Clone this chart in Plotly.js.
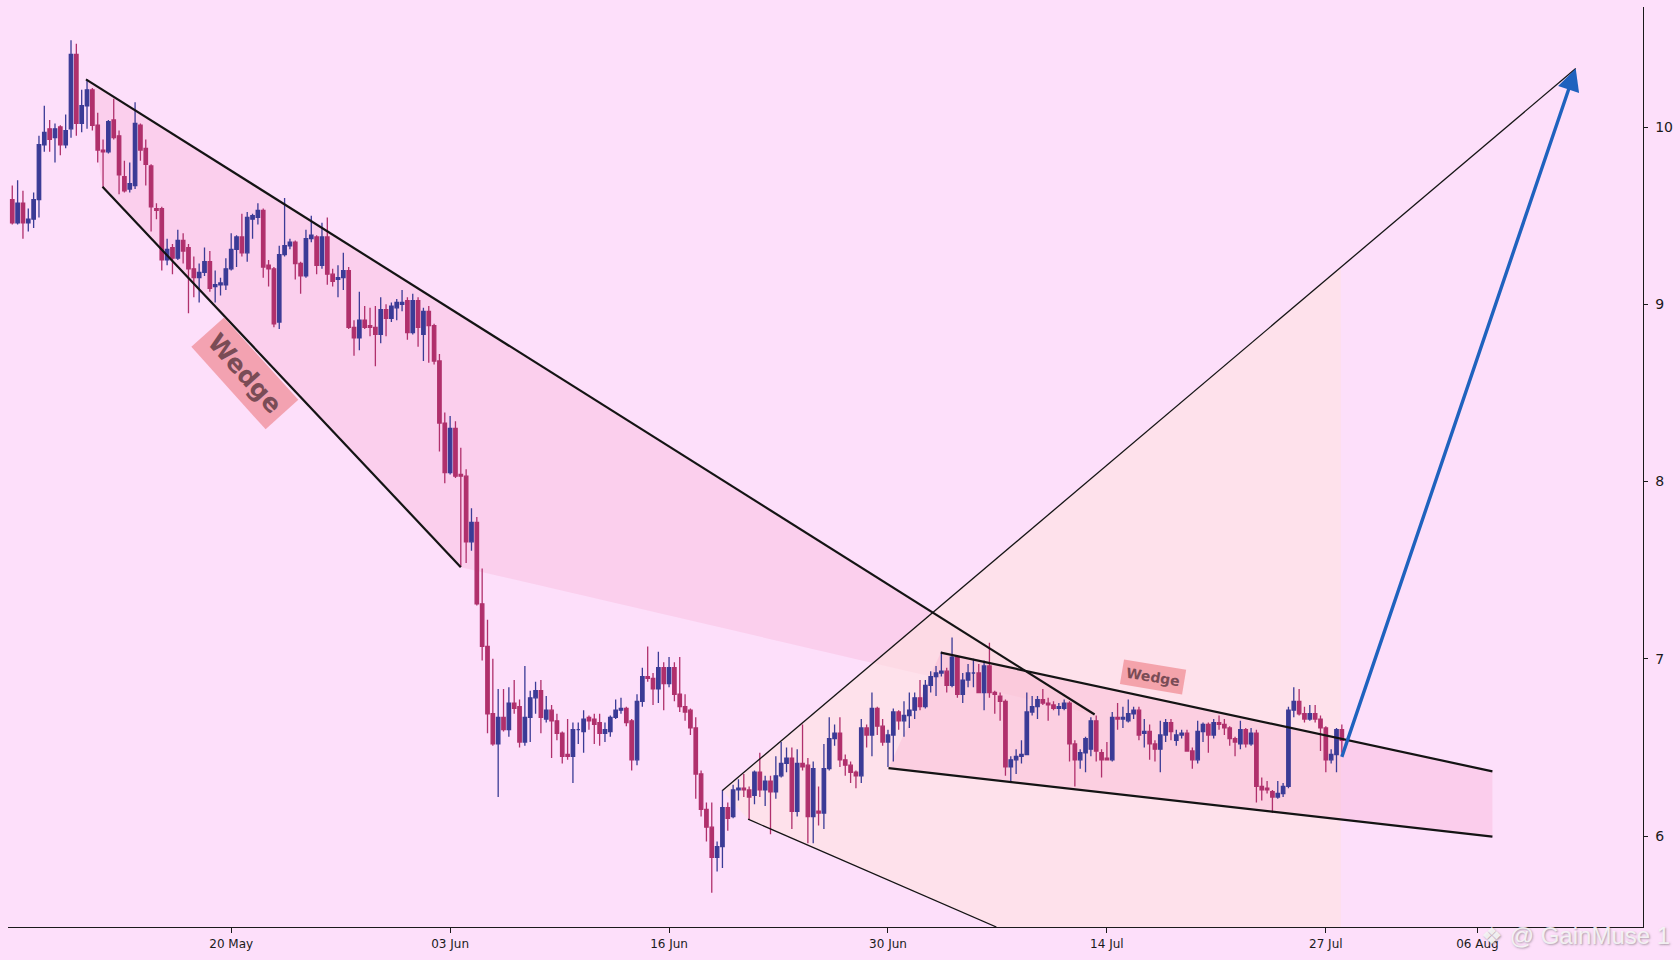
<!DOCTYPE html>
<html>
<head>
<meta charset="utf-8">
<script src="https://cdn.plot.ly/plotly-3.0.1.min.js"></script>
<style>
  html, body { margin: 0; padding: 0; background: #FDDFFA; }
  #chart { width: 1680px; height: 960px; }
</style>
</head>
<body>
<div id="chart"></div>
<script>
// ---- candle data (8h candles, index based) ----
const openP = [
9.59,9.46,9.57,9.46,9.48,9.59,9.90,9.99,9.94,10.00,
9.90,9.99,10.41,10.02,10.12,10.21,10.01,9.87,9.86,10.04,
9.95,9.72,9.65,9.67,10.01,9.88,9.78,9.54,9.54,9.25,
9.32,9.26,9.36,9.32,9.20,9.15,9.18,9.24,9.10,9.11,
9.11,9.20,9.31,9.38,9.29,9.48,9.49,9.53,9.22,9.20,
8.90,9.28,9.33,9.35,9.23,9.16,9.37,9.38,9.22,9.38,
9.17,9.14,9.15,9.19,8.87,8.81,8.91,8.88,8.87,8.83,
8.97,8.92,8.98,9.00,9.02,8.84,9.02,8.83,8.96,8.88,
8.68,8.33,8.05,8.30,8.04,8.03,7.66,7.77,7.31,7.07,
6.69,6.52,6.67,6.60,6.75,6.73,6.53,6.67,6.78,6.82,
6.66,6.71,6.65,6.58,6.46,6.45,6.60,6.59,6.67,6.66,
6.64,6.58,6.59,6.67,6.71,6.72,6.65,6.43,6.76,6.90,
6.89,6.83,6.95,6.86,6.95,6.80,6.73,6.71,6.61,6.35,
6.15,6.05,5.88,5.94,6.16,6.11,6.26,6.27,6.26,6.23,
6.36,6.26,6.31,6.25,6.34,6.41,6.44,6.14,6.41,6.40,
6.11,6.14,6.13,6.38,6.55,6.58,6.43,6.40,6.36,6.34,
6.61,6.57,6.72,6.62,6.53,6.57,6.70,6.65,6.68,6.71,
6.78,6.73,6.85,6.90,6.92,6.93,6.85,7.01,6.80,6.88,
6.92,6.92,6.81,6.96,6.81,6.79,6.76,6.39,6.43,6.45,
6.46,6.70,6.73,6.77,6.75,6.74,6.72,6.72,6.75,6.52,
6.43,6.47,6.49,6.65,6.47,6.44,6.43,6.67,6.66,6.65,
6.69,6.71,6.58,6.59,6.52,6.49,6.57,6.64,6.54,6.57,
6.58,6.48,6.43,6.59,6.63,6.57,6.64,6.63,6.61,6.55,
6.52,6.60,6.52,6.58,6.28,6.27,6.25,6.22,6.24,6.28,
6.71,6.76,6.69,6.66,6.69,6.66,6.61,6.43,6.46,6.60
];
const highP = [
9.67,9.70,9.64,9.54,9.63,9.95,10.12,10.04,10.02,10.01,
10.07,10.49,10.47,10.21,10.27,10.22,10.08,9.93,10.04,10.16,
9.98,9.81,9.80,10.14,10.02,9.93,9.79,9.57,9.55,9.37,
9.34,9.42,9.40,9.34,9.27,9.23,9.32,9.30,9.19,9.15,
9.26,9.40,9.39,9.51,9.52,9.51,9.57,9.54,9.25,9.21,
9.33,9.60,9.37,9.36,9.24,9.42,9.50,9.39,9.46,9.49,
9.20,9.22,9.29,9.21,8.91,9.07,8.99,8.98,8.99,9.04,
9.00,9.01,9.03,9.08,9.04,9.06,9.04,8.98,8.99,8.89,
8.72,8.39,8.37,8.34,8.19,8.07,7.85,7.80,7.51,7.22,
7.00,6.83,6.83,6.84,6.88,6.77,6.96,6.82,6.87,6.88,
6.79,6.74,6.69,6.59,6.66,6.64,6.64,6.71,6.68,6.69,
6.69,6.64,6.68,6.77,6.78,6.73,6.66,6.80,6.95,7.07,
6.92,7.04,6.98,7.01,6.98,7.01,6.80,6.72,6.67,6.37,
6.19,6.19,5.97,6.26,6.19,6.29,6.32,6.35,6.28,6.37,
6.47,6.34,6.34,6.45,6.53,6.50,6.50,6.49,6.63,6.44,
6.42,6.28,6.52,6.67,6.63,6.67,6.46,6.42,6.37,6.66,
6.63,6.81,6.73,6.66,6.60,6.72,6.71,6.76,6.81,6.81,
6.88,6.88,6.93,6.96,7.04,6.95,7.12,7.02,6.92,6.97,
7.00,6.97,6.99,7.09,6.82,6.81,6.77,6.45,6.49,6.54,
6.81,6.79,6.79,6.83,6.78,6.76,6.75,6.77,6.76,6.54,
6.49,6.56,6.67,6.68,6.49,6.53,6.70,6.75,6.73,6.77,
6.73,6.73,6.66,6.63,6.54,6.65,6.66,6.66,6.60,6.60,
6.60,6.50,6.65,6.64,6.64,6.66,6.68,6.66,6.62,6.56,
6.65,6.61,6.61,6.60,6.33,6.31,6.26,6.31,6.30,6.73,
6.84,6.83,6.73,6.74,6.74,6.68,6.62,6.49,6.61,6.63
];
const lowP = [
9.45,9.45,9.37,9.41,9.43,9.49,9.86,9.86,9.80,9.84,
9.88,9.94,9.95,9.97,9.99,9.98,9.80,9.66,9.85,9.93,
9.62,9.63,9.63,9.65,9.81,9.67,9.41,9.48,9.19,9.22,
9.17,9.25,9.23,8.95,9.04,9.01,9.16,9.07,9.01,9.05,
9.08,9.19,9.21,9.27,9.24,9.37,9.45,9.15,9.10,8.87,
8.86,9.27,9.31,9.14,9.06,9.15,9.35,9.17,9.20,9.11,
9.10,9.04,9.08,8.86,8.71,8.74,8.86,8.82,8.65,8.78,
8.82,8.90,8.91,8.96,8.80,8.83,8.76,8.68,8.67,8.66,
8.17,7.99,8.04,8.02,7.52,7.54,7.61,7.30,6.99,6.58,
6.51,6.22,6.59,6.56,6.69,6.50,6.51,6.53,6.69,6.58,
6.64,6.44,6.54,6.41,6.43,6.30,6.52,6.47,6.60,6.52,
6.51,6.53,6.56,6.66,6.69,6.62,6.37,6.40,6.73,6.87,
6.74,6.75,6.71,6.84,6.76,6.70,6.65,6.57,6.21,6.11,
5.97,5.68,5.80,5.82,6.03,6.10,6.20,6.22,6.09,6.18,
6.22,6.17,6.01,6.21,6.33,6.36,6.04,6.11,6.37,5.96,
5.96,6.06,6.04,6.37,6.51,6.39,6.34,6.30,6.27,6.30,
6.50,6.45,6.57,6.51,6.39,6.42,6.60,6.56,6.61,6.66,
6.71,6.72,6.81,6.79,6.90,6.81,6.84,6.78,6.75,6.84,
6.84,6.81,6.71,6.78,6.69,6.65,6.34,6.31,6.35,6.41,
6.46,6.68,6.66,6.74,6.65,6.71,6.68,6.71,6.42,6.28,
6.38,6.36,6.45,6.42,6.33,6.43,6.42,6.60,6.61,6.64,
6.66,6.54,6.50,6.43,6.42,6.36,6.53,6.54,6.51,6.55,
6.48,6.38,6.41,6.53,6.47,6.55,6.60,6.57,6.51,6.45,
6.49,6.50,6.51,6.19,6.20,6.24,6.13,6.21,6.22,6.27,
6.67,6.68,6.64,6.65,6.64,6.48,6.36,6.41,6.36,6.47
];
const closeP = [
9.46,9.57,9.46,9.48,9.59,9.90,9.97,9.93,9.99,9.90,
9.98,10.41,10.02,10.12,10.21,10.01,9.87,9.86,10.03,9.94,
9.73,9.64,9.68,10.02,9.87,9.79,9.55,9.53,9.25,9.31,
9.26,9.36,9.30,9.20,9.15,9.18,9.24,9.09,9.11,9.12,
9.20,9.31,9.38,9.29,9.49,9.50,9.53,9.21,9.20,8.89,
9.28,9.33,9.35,9.23,9.16,9.37,9.39,9.22,9.38,9.17,
9.13,9.15,9.19,8.87,8.81,8.91,8.87,8.87,8.83,8.97,
8.92,8.99,9.01,9.01,8.84,9.02,8.87,8.96,8.88,8.68,
8.33,8.05,8.30,8.03,8.03,7.66,7.77,7.31,7.07,6.69,
6.52,6.67,6.60,6.75,6.72,6.53,6.67,6.78,6.82,6.67,
6.71,6.65,6.58,6.45,6.45,6.60,6.60,6.66,6.65,6.63,
6.58,6.60,6.67,6.71,6.72,6.64,6.43,6.76,6.90,6.89,
6.83,6.95,6.86,6.95,6.80,6.73,6.70,6.61,6.35,6.15,
6.05,5.88,5.94,6.16,6.10,6.26,6.27,6.26,6.22,6.36,
6.26,6.31,6.25,6.34,6.41,6.44,6.14,6.41,6.39,6.11,
6.38,6.13,6.38,6.55,6.58,6.43,6.40,6.36,6.34,6.61,
6.57,6.72,6.62,6.53,6.57,6.70,6.65,6.68,6.71,6.78,
6.73,6.85,6.90,6.92,6.93,6.85,7.01,6.80,6.88,6.92,
6.92,6.81,6.96,6.81,6.80,6.76,6.39,6.43,6.45,6.46,
6.70,6.73,6.77,6.75,6.74,6.72,6.73,6.75,6.52,6.43,
6.47,6.55,6.65,6.48,6.43,6.43,6.67,6.66,6.67,6.69,
6.71,6.57,6.59,6.52,6.49,6.57,6.64,6.59,6.57,6.58,
6.48,6.43,6.59,6.63,6.57,6.64,6.63,6.61,6.55,6.53,
6.60,6.52,6.58,6.28,6.26,6.26,6.22,6.24,6.28,6.71,
6.76,6.69,6.66,6.69,6.66,6.61,6.43,6.46,6.60,6.54
];

// ---- axis ticks ----
const tickLabels = ['20 May', '03 Jun', '16 Jun', '30 Jun', '14 Jul', '27 Jul', '06 Aug'];
const tickIdx    = [41, 82, 123, 164, 205, 246, 274.4];
const priceTicks = [6, 7, 8, 9, 10];

// ---- drawn pattern lines: [candle index, price] ----
const wedge1Upper = [[13.8, 10.269], [202.7, 6.686]];
const wedge1Lower = [[16.9, 9.663], [84.0, 7.517]];
const triRise     = [[133.0, 6.257], [292.8, 10.33]];
const triFall     = [[137.8, 6.095], [184.3, 5.487]];
const wedge2Upper = [[173.9, 7.035], [277.2, 6.365]];
const wedge2Lower = [[164.1, 6.383], [277.2, 5.997]];
const triShadeEnd = 248.8;
const arrowFrom   = [248.9, 6.438];
const arrowTo     = [292.8, 10.33];
const labelWedge1 = [43.6, 8.611];
const labelWedge2 = [213.7, 6.896];

const idx = openP.map((_, i) => i);
const Y0 = 5.487, Y1 = 10.677;

const BG = '#FDDFFA';
const UP = '#3B3B96';
const DOWN = '#B0306C';

function lineY(seg, x) {
  const [[x0, y0], [x1, y1]] = seg;
  return y0 + (y1 - y0) * (x - x0) / (x1 - x0);
}
function pathOf(pts) {
  return 'M ' + pts.map(p => p[0] + ',' + p[1]).join(' L ') + ' Z';
}

const trace = {
  type: 'candlestick',
  x: idx,
  open: openP, high: highP, low: lowP, close: closeP,
  increasing: { line: { color: UP, width: 1.3 }, fillcolor: UP },
  decreasing: { line: { color: DOWN, width: 1.3 }, fillcolor: DOWN },
  whiskerwidth: 0,
  hoverinfo: 'skip',
  showlegend: false
};

const shapes = [
  // wedge 1 shading
  { type: 'path', xref: 'x', yref: 'y', layer: 'below',
    path: pathOf([wedge1Upper[0], wedge1Upper[1], wedge1Lower[1], wedge1Lower[0]]),
    fillcolor: 'rgba(246,150,192,0.22)', line: { width: 0 } },
  // triangle shading
  { type: 'path', xref: 'x', yref: 'y', layer: 'below',
    path: pathOf([triRise[0], [triShadeEnd, lineY(triRise, triShadeEnd)], [triShadeEnd, Y0],
                  triFall[1], triFall[0]]),
    fillcolor: 'rgba(255,226,224,0.58)', line: { width: 0 } },
  // wedge 2 shading
  { type: 'path', xref: 'x', yref: 'y', layer: 'below',
    path: pathOf([wedge2Upper[0], wedge2Upper[1], wedge2Lower[1], wedge2Lower[0]]),
    fillcolor: 'rgba(246,150,192,0.24)', line: { width: 0 } },
];
function seg(s, w) {
  return { type: 'line', xref: 'x', yref: 'y', layer: 'above',
    x0: s[0][0], y0: s[0][1], x1: s[1][0], y1: s[1][1],
    line: { color: '#141414', width: w } };
}
shapes.push(seg(wedge1Upper, 2.2), seg(wedge1Lower, 2.2),
            seg(triRise, 1.3), seg(triFall, 1.3),
            seg(wedge2Upper, 2.2), seg(wedge2Lower, 2.2));

const annotations = [
  { x: labelWedge1[0], y: labelWedge1[1], xref: 'x', yref: 'y', text: 'Wedge',
    showarrow: false, textangle: 48,
    font: { family: 'DejaVu Sans', size: 25, color: '#7A4C56', weight: 'bold' },
    bgcolor: 'rgba(238,125,132,0.62)', borderpad: 7 },
  { x: labelWedge2[0], y: labelWedge2[1], xref: 'x', yref: 'y', text: 'Wedge',
    showarrow: false, textangle: 9.5,
    font: { family: 'DejaVu Sans', size: 14, color: '#7A4C56', weight: 'bold' },
    bgcolor: 'rgba(238,125,132,0.62)', borderpad: 4 },
  { x: arrowTo[0], y: arrowTo[1], ax: arrowFrom[0], ay: arrowFrom[1],
    xref: 'x', yref: 'y', axref: 'x', ayref: 'y', text: '',
    showarrow: true, arrowhead: 2, arrowsize: 1.3, arrowwidth: 3.4,
    arrowcolor: '#1F62BE', standoff: 0, startstandoff: 0 },
  { x: 1.018, y: -0.009, xref: 'paper', yref: 'paper', xanchor: 'right', yanchor: 'middle',
    text: '❖ @ GainMuse 1', showarrow: false,
    font: { family: 'Liberation Sans', size: 24, color: 'rgba(246,246,246,0.92)',
            shadow: '1px 1px 2px rgba(90,90,90,0.55)' } }
];

const layout = {
  width: 1680, height: 960,
  paper_bgcolor: BG, plot_bgcolor: BG,
  margin: { l: 8, r: 37, t: 7, b: 33 },
  boxgap: 0.36, boxgroupgap: 0,
  showlegend: false,
  xaxis: {
    range: [-0.8, 305.4], rangeslider: { visible: false },
    showgrid: false, zeroline: false,
    showline: true, linecolor: '#1A1A1A', linewidth: 1.4,
    ticks: 'outside', ticklen: 5, tickwidth: 1, tickcolor: '#1A1A1A',
    tickmode: 'array', tickvals: tickIdx, ticktext: tickLabels,
    tickfont: { family: 'DejaVu Sans', size: 12, color: '#1A1A1A' },
    fixedrange: true
  },
  yaxis: {
    side: 'right', range: [Y0, Y1],
    showgrid: false, zeroline: false,
    showline: true, linecolor: '#1A1A1A', linewidth: 1.4,
    ticks: 'outside', ticklen: 4, tickwidth: 1, tickcolor: '#1A1A1A',
    tickmode: 'array', tickvals: priceTicks, ticktext: priceTicks.map(String),
    tickfont: { family: 'DejaVu Sans', size: 14, color: '#1A1A1A' },
    ticklabelstandoff: 4,
    fixedrange: true
  },
  shapes: shapes,
  annotations: annotations
};

Plotly.newPlot('chart', [trace], layout, { staticPlot: true, displayModeBar: false });
</script>
</body>
</html>
